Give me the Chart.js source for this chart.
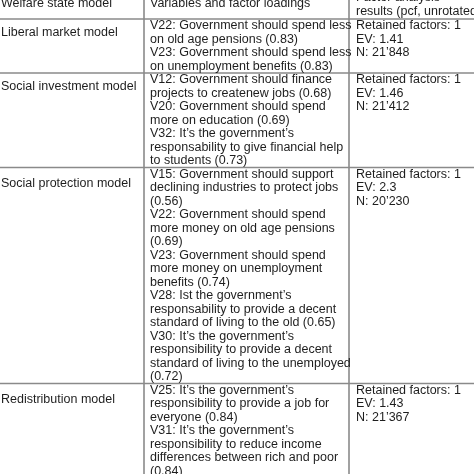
<!DOCTYPE html>
<html>
<head>
<meta charset="utf-8">
<script src="https://cdn.jsdelivr.net/npm/chart.js@4"></script>
<style>
  html, body { margin: 0; padding: 0; background: #fff; }
  #wrap { width: 474px; height: 474px; }
</style>
</head>
<body>
<div id="wrap"><canvas id="tableChart"></canvas></div>
<script>
const headers = [
    ['Welfare state model'],
    ['Variables and factor loadings'],
    ['Factor analysis', 'results (pcf, unrotated)']
];
const models = ['Liberal market model', 'Social investment model', 'Social protection model', 'Redistribution model'];
const variables = [
    ['V22: Government should spend less', 'on old age pensions (0.83)',
     'V23: Government should spend less', 'on unemployment benefits (0.83)'],
    ['V12: Government should finance', 'projects to createnew jobs (0.68)',
     'V20: Government should spend', 'more on education (0.69)',
     'V32: It\u2019s the government\u2019s', 'responsability to give financial help', 'to students (0.73)'],
    ['V15: Government should support', 'declining industries to protect jobs', '(0.56)',
     'V22: Government should spend', 'more money on old age pensions', '(0.69)',
     'V23: Government should spend', 'more money on unemployment', 'benefits (0.74)',
     'V28: Ist the government\u2019s', 'responsability to provide a decent', 'standard of living to the old (0.65)',
     'V30: It\u2019s the government\u2019s', 'responsibility to provide a decent', 'standard of living to the unemployed', '(0.72)'],
    ['V25: It\u2019s the government\u2019s', 'responsibility to provide a job for', 'everyone (0.84)',
     'V31: It\u2019s the government\u2019s', 'responsibility to reduce income', 'differences between rich and poor', '(0.84)']
];
const retained = [1, 1, 1, 1];
const eigenvalues = ['1.41', '1.46', '2.3', '1.43'];
const sampleN = ['21\u2019848', '21\u2019412', '20\u2019230', '21\u2019367'];

// layout in the 474x474 value space
const colX = [144, 349];
const textX = [1, 150, 356];
const headerBottom = 19;
const pitch = 13.5;

const rowLines = [headerBottom];
variables.forEach(v => rowLines.push(rowLines[rowLines.length - 1] + v.length * pitch));

const gridColor = '#8a8a8a';
const datasets = [];
colX.forEach(x => datasets.push({ data: [{x: x, y: -10}, {x: x, y: 490}] }));
rowLines.forEach(y => datasets.push({ data: [{x: -5, y: y}, {x: 480, y: y}] }));
datasets.forEach(d => Object.assign(d, {
    showLine: true, borderColor: gridColor, borderWidth: 1.6, pointRadius: 0, fill: false
}));

const textPlugin = {
    id: 'tableText',
    afterDatasetsDraw(chart) {
        const ctx = chart.ctx;
        const sx = chart.scales.x, sy = chart.scales.y;
        ctx.save();
        ctx.fillStyle = '#1e1e1e';
        ctx.font = '12.5px "Liberation Sans", Arial, sans-serif';
        ctx.textBaseline = 'middle';
        const put = (s, x, y) => ctx.fillText(s, sx.getPixelForValue(x), sy.getPixelForValue(y));
        put(headers[0][0], textX[0], 4);
        put(headers[1][0], textX[1], 4);
        put(headers[2][0], textX[2], -2);
        put(headers[2][1], textX[2], 12);
        models.forEach((m, i) => {
            const top = rowLines[i];
            put(m, textX[0], top + 14 + (i > 1 ? 2 : 0));
            variables[i].forEach((line, j) => put(line, textX[1], top + 7 + j * pitch));
            put('Retained factors: ' + retained[i], textX[2], top + 7);
            put('EV: ' + eigenvalues[i], textX[2], top + 7 + pitch);
            put('N: ' + sampleN[i], textX[2], top + 7 + 2 * pitch);
        });
        ctx.restore();
    }
};

new Chart(document.getElementById('tableChart'), {
    type: 'scatter',
    data: { datasets: datasets },
    options: {
        responsive: true,
        maintainAspectRatio: false,
        animation: false,
        layout: { padding: 0 },
        plugins: { legend: { display: false }, tooltip: { enabled: false } },
        scales: {
            x: { type: 'linear', min: 0, max: 474, display: false },
            y: { type: 'linear', min: 0, max: 474, reverse: true, display: false }
        }
    },
    plugins: [textPlugin]
});
</script>
</body>
</html>
